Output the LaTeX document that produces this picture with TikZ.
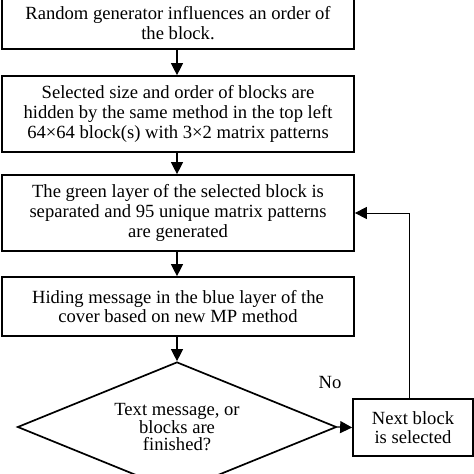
\documentclass[tikz,border=0pt]{standalone}
\usepackage{fontspec}
\setmainfont{Liberation Serif}
\usetikzlibrary{shapes.geometric,arrows.meta}
\begin{document}
\begin{tikzpicture}[x=1pt,y=-1pt,
  txt/.style={font=\fontsize{18.6}{19.6}\selectfont},
  box/.style={txt,draw,line width=1.7pt,minimum width=352pt,align=center,inner sep=0pt},
  dia/.style={draw,line width=1.7pt,shape=diamond,shape aspect=2.45,minimum width=319pt,minimum height=130pt,inner sep=0pt,align=center,font=\fontsize{18.6}{16.8}\selectfont},
  arr/.style={line width=1.3pt,-{Triangle[width=12pt,length=12pt]}},
  fb/.style={line width=0.9pt,-{Triangle[width=12pt,length=12pt]}}]
\useasboundingbox (0,0) rectangle (474,474);
\clip (0,0) rectangle (474,474);
\node[box,minimum height=52pt] (b1) at (178,23) {Random generator influences an order of\\the block.};
\node[box,minimum height=76pt] (b2) at (178,114) {Selected size and order of blocks are\\hidden by the same method in the top left\\64×64 block(s) with 3×2 matrix patterns};
\node[box,minimum height=76pt] (b3) at (178,213) {The green layer of the selected block is\\separated and 95 unique matrix patterns\\are generated};
\node[box,minimum height=59pt] (b4) at (178,306.5) {Hiding message in the blue layer of the\\cover based on new MP method};
\node[dia] (d) at (177,427) {Text message, or\\blocks are\\finished?};
\node[box,minimum width=120pt,minimum height=57pt] (nb) at (413,427.5) {Next block\\is selected};
\node[txt] (no) at (330,382) {No};
\draw[arr] (b1.south -| d.north) -- (b2.north -| d.north);
\draw[arr] (b2.south -| d.north) -- (b3.north -| d.north);
\draw[arr] (b3.south -| d.north) -- (b4.north -| d.north);
\draw[arr] (b4.south -| d.north) -- (d.north);
\draw[arr] (d.east) -- (nb.west);
\draw[fb] ([xshift=-4pt]nb.north) |- (b3.east);
\end{tikzpicture}
\end{document}
